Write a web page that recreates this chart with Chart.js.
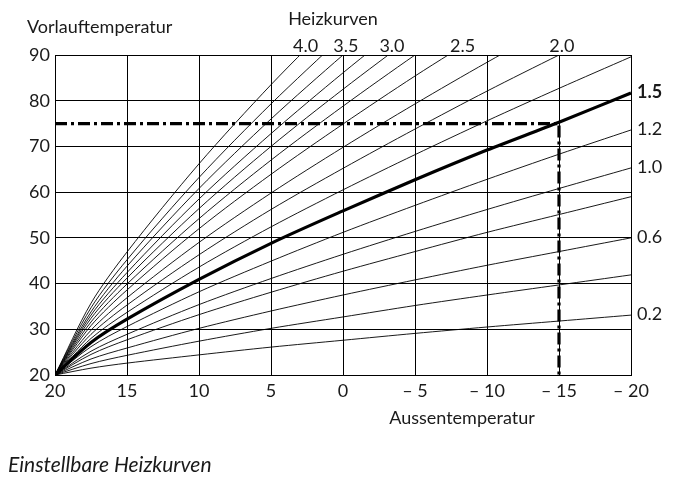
<!DOCTYPE html>
<html>
<head>
<meta charset="utf-8">
<script src="https://cdn.jsdelivr.net/npm/chart.js@4/dist/chart.umd.min.js"></script>
<style>
html,body{margin:0;padding:0;background:#fff;}
#c{display:block;}
</style>
</head>
<body>
<canvas id="c" width="676" height="481"></canvas>
<script>
// Outdoor temperature (x) sample points
const outdoorTemps = [20, 17.5, 15, 10, 5, 0, -5, -10, -15, -20];

// Flow temperature for each heating curve at each outdoor temp
const curve40  = [20, 35.7, 46.9, 66.2, 83.5, 99.4];
const curve375 = [20, 34.7, 45.2, 63.2, 79.3, 94.2];
const curve35  = [20, 33.8, 43.8, 60.8, 76.0, 90.0, 103.4];
const curve325 = [20, 33.1, 42.4, 58.5, 72.8, 86.1, 98.7];
const curve30  = [20, 32.4, 41.2, 56.4, 70.0, 82.5, 94.4];
const curve275 = [20, 31.6, 39.9, 54.2, 67.0, 78.8, 90.0, 100.7];
const curve25  = [20, 30.8, 38.6, 52.0, 63.9, 74.9, 85.4, 95.3];
const curve225 = [20, 29.8, 36.9, 49.0, 59.8, 69.8, 79.3, 88.4, 97.1];
const curve20  = [20, 28.9, 35.3, 46.3, 56.2, 65.2, 73.8, 82.1, 90.0, 97.7];
const curve175 = [20, 28.0, 33.7, 43.6, 52.4, 60.5, 68.2, 75.6, 82.7, 89.6];
const curve15  = [20, 27.1, 32.2, 40.9, 48.8, 55.9, 62.7, 69.2, 75.3, 81.7];
const curve12  = [20, 26.2, 30.6, 38.2, 44.9, 51.2, 57.1, 62.8, 68.3, 73.6];
const curve10  = [20, 25.2, 28.9, 35.4, 41.1, 46.4, 51.4, 56.2, 60.8, 65.3];
const curve08  = [20, 24.5, 27.7, 33.2, 38.1, 42.7, 47.0, 51.2, 55.1, 59.0];
const curve06  = [20, 23.5, 25.9, 30.2, 34.0, 37.5, 40.8, 44.0, 47.0, 50.0];
const curve04  = [20, 22.5, 24.3, 27.4, 30.2, 32.7, 35.2, 37.5, 39.7, 41.9];
const curve02  = [20, 21.5, 22.6, 24.4, 26.1, 27.6, 29.1, 30.5, 31.8, 33.1];

// Design point (dash-dot marker)
const designOutdoor = -15;
const designFlow = 75;

// Tick values
const xTicks = [20, 15, 10, 5, 0, -5, -10, -15, -20];
const yTicks = [20, 30, 40, 50, 60, 70, 80, 90];

// Curve labels
const topLabels  = ['4.0', '3.5', '3.0', '2.5', '2.0'];
const topLabelAt = [2.6, -0.2, -3.4, -8.3, -15.2];   // outdoor temp under label centre
const rightLabels = ['1.5', '1.2', '1.0', '0.6', '0.2'];
const rightLabelCurves = [curve15, curve12, curve10, curve06, curve02];

const curves = [curve40, curve375, curve35, curve325, curve30, curve275, curve25, curve225,
                curve20, curve175, curve15, curve12, curve10, curve08, curve06, curve04, curve02];

const toPts = arr => arr.map((v, i) => ({x: outdoorTemps[i], y: v}));

const datasets = curves.map(c => ({
  data: toPts(c),
  borderColor: '#000',
  borderWidth: c === curve15 ? 3.2 : 0.9,
  pointRadius: 0,
  tension: 0.3,
  fill: false
}));
datasets.push({
  data: [{x: 20, y: designFlow}, {x: designOutdoor, y: designFlow}, {x: designOutdoor, y: 20}],
  borderColor: '#000',
  borderWidth: 3.2,
  borderDash: [12, 4, 3, 4],
  pointRadius: 0,
  tension: 0,
  fill: false
});

const FONT = 'Lato, "Open Sans", sans-serif';
const TXT = '#1a1a1a';

const textPlugin = {
  id: 'texts',
  beforeDraw(chart) {
    const ctx = chart.ctx;
    ctx.save();
    ctx.fillStyle = '#fff';
    ctx.fillRect(0, 0, chart.width, chart.height);
    ctx.restore();
  },
  afterDraw(chart) {
    const ctx = chart.ctx;
    const xs = chart.scales.x, ys = chart.scales.y;
    const a = chart.chartArea;
    ctx.save();
    ctx.fillStyle = TXT;
    ctx.textBaseline = 'alphabetic';
    ctx.font = '18px ' + FONT;
    ctx.textAlign = 'left';
    ctx.fillText('Vorlauftemperatur', 27, 33);
    ctx.textAlign = 'center';
    ctx.fillText('Heizkurven', 333, 25);
    topLabels.forEach((t, i) => {
      ctx.fillText(t, xs.getPixelForValue(topLabelAt[i]), 52);
    });
    ctx.textAlign = 'left';
    ctx.textBaseline = 'middle';
    rightLabels.forEach((t, i) => {
      const c = rightLabelCurves[i];
      const yv = c[c.length - 1];
      ctx.font = (i === 0 ? 'bold ' : '') + '18px ' + FONT;
      ctx.fillText(t, a.right + 6, ys.getPixelForValue(yv) - 1);
    });
    ctx.textBaseline = 'alphabetic';
    ctx.font = '18px ' + FONT;
    ctx.textAlign = 'center';
    ctx.fillText('Aussentemperatur', 462, 424);
    ctx.textAlign = 'left';
    ctx.font = 'italic 21px ' + FONT;
    ctx.fillText('Einstellbare Heizkurven', 8, 472);
    ctx.restore();
  }
};

new Chart(document.getElementById('c'), {
  type: 'line',
  data: { datasets },
  options: {
    responsive: false,
    animation: false,
    events: [],
    layout: { padding: { left: 0, top: 55, right: 45, bottom: 76 } },
    plugins: { legend: { display: false }, tooltip: { enabled: false } },
    scales: {
      x: {
        type: 'linear',
        reverse: true,
        min: -20, max: 20,
        afterBuildTicks: s => { s.ticks = xTicks.map(v => ({value: v})); },
        afterFit: s => { s.height = 30; },
        grid: { color: '#000', lineWidth: 1, drawTicks: false },
        border: { color: '#000', width: 1 },
        ticks: {
          padding: 5,
          color: TXT,
          font: { family: FONT, size: 18 },
          maxRotation: 0,
          autoSkip: false,
          callback: v => v < 0 ? '\u2013 ' + (-v) : String(v)
        }
      },
      y: {
        type: 'linear',
        min: 20, max: 90,
        afterBuildTicks: s => { s.ticks = yTicks.map(v => ({value: v})); },
        afterFit: s => { s.width = 55; },
        grid: { color: '#000', lineWidth: 1, drawTicks: false },
        border: { color: '#000', width: 1 },
        ticks: {
          padding: 5,
          color: TXT,
          font: { family: FONT, size: 18 }
        }
      }
    }
  },
  plugins: [textPlugin]
});
</script>
</body>
</html>
